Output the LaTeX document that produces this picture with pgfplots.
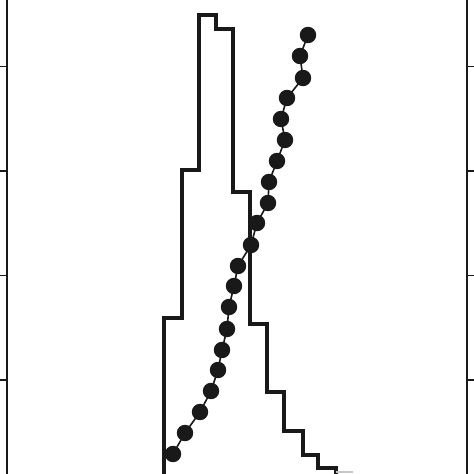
\documentclass[border=0pt]{standalone}
\usepackage{pgfplots}
\pgfplotsset{compat=1.18}
\begin{document}
\begin{tikzpicture}
\begin{axis}[
  scale only axis,
  width=460pt, height=474pt,
  xmin=7, xmax=467, ymin=0, ymax=474,
  separate axis lines,
  x axis line style={draw=none},
  y axis line style={line width=1.8pt, black!90},
  xtick=\empty,
  ytick={94,198.5,303,407.5},
  yticklabels={},
  tick align=outside,
  major tick length=7pt,
  every tick/.style={line width=1.8pt, black!90},
]
\addplot[const plot, line width=3.3pt, black!90, line join=miter] coordinates {
(164,-10)(164,156)(182,304)(199,459)(216,445)(233,282)(250,150)(267,82)(284,43)(303,19)(318,6)(336,-10)};
\addplot[gray!45, line width=2.5pt] coordinates {(336,2)(353,2)};
\addplot[black!90, line width=1.6pt, mark=*, mark size=7.4pt, mark options={fill=black!90, draw=black!90}] coordinates {
(173,20)(185,41)(200,62)(211,83)(218,104)(222,124)(227,145)(229,167)(234,188)(238,208)(251,229)(257,251)(268,271)(269,292)(277,313)(285,334)(281,355)(287,376)(303,396)(300,418)(308,439)};
\end{axis}
\pgfresetboundingbox
\path[use as bounding box] ([xshift=-7pt]current axis.south west) rectangle ([xshift=7pt]current axis.north east);
\end{tikzpicture}
\end{document}
